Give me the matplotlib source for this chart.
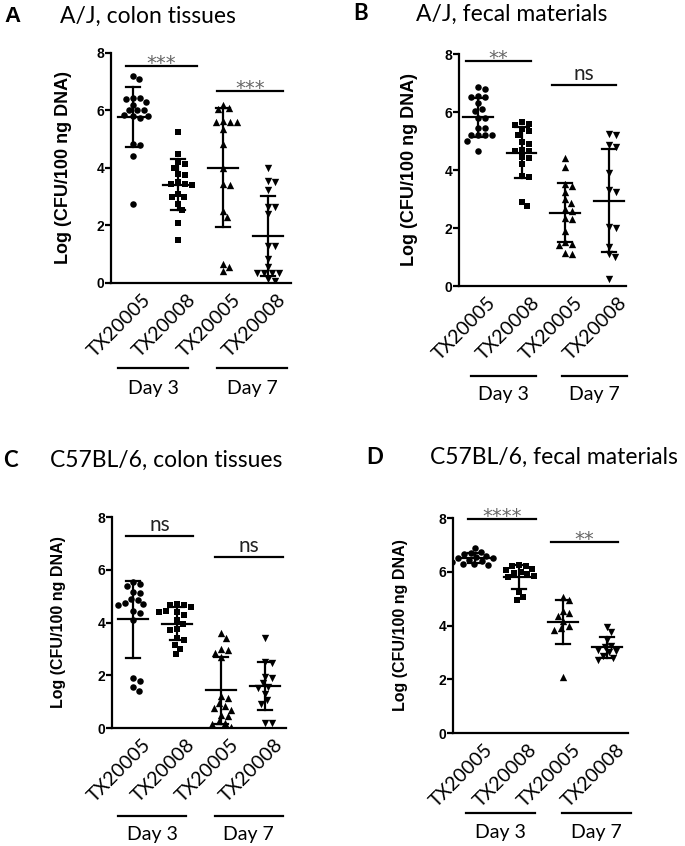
import numpy as np
import matplotlib
matplotlib.use('Agg')
import matplotlib.pyplot as plt
from matplotlib.lines import Line2D
from matplotlib import transforms

W, H, DPI = 685, 846, 100

# ---------------- data ----------------
categories = ['TX20005', 'TX20008', 'TX20005', 'TX20008']
day_labels = ['Day 3', 'Day 7']
yticks = [0, 2, 4, 6, 8]
markers = ['o', 's', '^', 'v']
panel_letters = ['A', 'B', 'C', 'D']
panel_titles = ['A/J, colon tissues', 'A/J, fecal materials',
                'C57BL/6, colon tissues', 'C57BL/6, fecal materials']

a_d3_tx20005 = [7.2, 7.1, 6.45, 6.45, 6.4, 6.3, 6.2, 6.0, 6.0, 6.0, 5.85, 5.8, 5.8, 5.75, 4.85, 4.8, 4.4, 2.75]
a_d3_tx20008 = [5.25, 4.5, 4.2, 4.15, 4.0, 3.8, 3.75, 3.5, 3.45, 3.45, 3.4, 3.1, 3.0, 3.0, 2.75, 2.55, 2.1, 1.5]
a_d7_tx20005 = [6.2, 6.1, 6.05, 5.6, 5.6, 5.65, 5.6, 5.35, 4.85, 4.0, 3.45, 3.4, 2.5, 2.3, 0.65, 0.55, 0.4]
a_d7_tx20008 = [4.0, 3.55, 3.5, 3.25, 2.65, 2.65, 2.4, 1.3, 1.3, 0.85, 0.55, 0.35, 0.35, 0.35, 0.35, 0.15, 0.07]

b_d3_tx20005 = [6.85, 6.8, 6.55, 6.5, 6.5, 6.3, 6.1, 6.05, 5.8, 5.8, 5.45, 5.45, 5.2, 5.2, 5.2, 5.2, 5.0, 4.65]
b_d3_tx20008 = [5.65, 5.6, 5.55, 5.4, 5.35, 5.2, 4.95, 4.9, 4.7, 4.65, 4.65, 4.45, 4.4, 4.2, 3.8, 3.75, 2.9, 2.75]
b_d7_tx20005 = [4.4, 4.1, 3.5, 3.45, 3.25, 3.0, 2.85, 2.65, 2.6, 2.35, 2.3, 1.9, 1.5, 1.45, 1.4, 1.15, 1.1]
b_d7_tx20008 = [5.25, 5.2, 4.85, 4.8, 3.9, 3.3, 3.25, 2.05, 2.0, 1.35, 1.1, 1.0, 0.25]

c_d3_tx20005 = [5.55, 5.45, 5.4, 5.15, 5.1, 4.9, 4.85, 4.75, 4.7, 4.65, 4.45, 4.35, 4.1, 1.9, 1.8, 1.55, 1.4]
c_d3_tx20008 = [4.7, 4.65, 4.65, 4.6, 4.45, 4.4, 4.4, 4.3, 4.1, 3.95, 3.75, 3.7, 3.4, 3.35, 3.15, 3.0, 2.8]
c_d7_tx20005 = [3.6, 3.4, 3.0, 2.95, 2.85, 2.7, 1.2, 1.15, 0.95, 0.85, 0.75, 0.7, 0.5, 0.45, 0.25, 0.2, 0.15, 0.05]
c_d7_tx20008 = [3.4, 2.5, 2.45, 1.95, 1.9, 1.7, 1.55, 1.5, 1.3, 1.05, 0.9, 0.2, 0.2]

d_d3_tx20005 = [6.9, 6.75, 6.7, 6.65, 6.6, 6.55, 6.5, 6.5, 6.45, 6.4, 6.35, 6.3, 6.3, 6.25]
d_d3_tx20008 = [6.25, 6.2, 6.2, 6.1, 6.05, 6.0, 5.95, 5.9, 5.85, 5.8, 5.25, 5.05, 4.95]
d_d7_tx20005 = [5.05, 4.95, 4.55, 4.45, 4.35, 4.15, 4.0, 3.9, 3.85, 2.1]
d_d7_tx20008 = [3.95, 3.75, 3.45, 3.25, 3.2, 3.1, 3.05, 3.0, 2.85, 2.8, 2.7]

sig_labels = [['***', '***'], ['**', 'ns'], ['ns', 'ns'], ['****', '**']]

panel_data = [
    [a_d3_tx20005, a_d3_tx20008, a_d7_tx20005, a_d7_tx20008],
    [b_d3_tx20005, b_d3_tx20008, b_d7_tx20005, b_d7_tx20008],
    [c_d3_tx20005, c_d3_tx20008, c_d7_tx20005, c_d7_tx20008],
    [d_d3_tx20005, d_d3_tx20008, d_d7_tx20005, d_d7_tx20008],
]

# ---------------- layout (pixels) ----------------
layouts = [
    dict(rect=(111, 53, 291, 283), xlim=(0.51, 4.51), ylab_x=72, ylab_fs=13,
         letter=(12, 16), letter_font='Liberation Sans', title=(60, 16),
         sig=[(0.84, 2.42, 7.55), (2.87, 4.33, 6.68)],
         day_y=368, day_text_y=388, days=[(0.67, 2.22), (2.87, 4.42)]),
    dict(rect=(459, 54, 626, 286), xlim=(0.565, 4.39), ylab_x=418, ylab_fs=13,
         letter=(361, 14), letter_font='Lato', title=(416, 14),
         sig=[(0.73, 2.21, 7.76), (2.69, 4.16, 6.93)],
         day_y=376, day_text_y=394, days=[(0.84, 2.33), (2.92, 4.41)]),
    dict(rect=(112, 517, 286, 728), xlim=(0.52, 4.48), ylab_x=66, ylab_fs=11.5,
         letter=(10, 460), letter_font='Lato', title=(50, 460),
         sig=[(0.84, 2.36, 7.28), (2.86, 4.41, 6.49)],
         day_y=816, day_text_y=834, days=[(0.66, 2.2), (2.86, 4.41)]),
    dict(rect=(453, 518, 628, 733), xlim=(0.5, 4.48), ylab_x=408, ylab_fs=11.5,
         letter=(375, 457), letter_font='Lato', title=(430, 457),
         sig=[(0.84, 2.39, 7.95), (2.73, 4.25, 7.1)],
         day_y=813, day_text_y=832, days=[(0.8, 2.36), (2.98, 4.55)]),
]

TITLE_FONT = ['Lato', 'DejaVu Sans']
ARIAL = ['Liberation Sans', 'DejaVu Sans']

fig = plt.figure(figsize=(W / DPI, H / DPI), dpi=DPI)
fig.patch.set_facecolor('white')


def fx(x):
    return x / W


def fy(y):
    return 1 - y / H


def swarm_x(ax, xc, vals, d_px):
    vals = np.asarray(vals, dtype=float)
    pts = ax.transData.transform(np.column_stack([np.full(len(vals), xc), vals]))
    ys = pts[:, 1]
    order = np.argsort(-vals, kind='stable')
    placed = []
    offs = np.zeros(len(vals))
    for i in order:
        y = ys[i]
        near = [(xo, yo) for xo, yo in placed if abs(yo - y) < d_px]
        cands = [0.0]
        for xo, yo in near:
            dx = np.sqrt(d_px ** 2 - (yo - y) ** 2)
            cands += [xo + dx, xo - dx]
        cands.sort(key=lambda c: (abs(c), -c))
        for c in cands:
            if all((c - xo) ** 2 + (y - yo) ** 2 >= d_px ** 2 - 1e-6 for xo, yo in near):
                offs[i] = c
                break
        placed.append((offs[i], y))
    x0 = pts[0, 0] if len(pts) else 0
    xs = ax.transData.inverted().transform(np.column_stack([x0 + offs, ys]))[:, 0]
    return xs


msizes = {'o': 22, 's': 24, '^': 28, 'v': 28}
positions = [1, 2, 3, 4]

for p in range(4):
    L = layouts[p]
    l, t, r, b = L['rect']
    ax = fig.add_axes([fx(l), fy(b), (r - l) / W, (b - t) / H])
    ax.set_xlim(*L['xlim'])
    ax.set_ylim(0, 8)
    for s in ['top', 'right']:
        ax.spines[s].set_visible(False)
    for s in ['left', 'bottom']:
        ax.spines[s].set_linewidth(1.6)
    ax.set_yticks(yticks)
    ax.set_yticklabels([str(v) for v in yticks], fontfamily=ARIAL,
                       fontweight='bold', fontsize=10)
    ax.tick_params(axis='y', length=4, width=1.6, pad=1)
    ax.tick_params(axis='x', length=0, pad=0)
    ax.set_xticks(positions)
    ax.set_xticklabels(categories, rotation=45, ha='right', va='center',
                       rotation_mode='anchor', fontfamily=TITLE_FONT, fontsize=14)
    off = transforms.ScaledTranslation(15 / DPI, -14 / DPI, fig.dpi_scale_trans)
    for lab in ax.get_xticklabels():
        lab.set_transform(lab.get_transform() + off)

    ax.set_ylabel('Log (CFU/100 ng DNA)', fontfamily=ARIAL, fontweight='bold',
                  fontsize=L['ylab_fs'])
    ax.yaxis.set_label_coords((L['ylab_x'] - l) / (r - l), 0.5)

    # points, mean and SD
    for gi, vals in enumerate(panel_data[p]):
        xc = positions[gi]
        xs = swarm_x(ax, xc, vals, 7.0)
        ax.scatter(xs, vals, marker=markers[gi], s=msizes[markers[gi]],
                   color='black', linewidths=0, zorder=3)
        m = np.mean(vals)
        sd = np.std(vals, ddof=1)
        ax.plot([xc - 0.34, xc + 0.34], [m, m], color='black', lw=1.6, zorder=4)
        ax.plot([xc, xc], [m - sd, m + sd], color='black', lw=1.6, zorder=4)
        for yy in (m - sd, m + sd):
            ax.plot([xc - 0.16, xc + 0.16], [yy, yy], color='black', lw=1.6, zorder=4)

    # significance bars
    for (x0, x1, yb), lab in zip(L['sig'], sig_labels[p]):
        ax.plot([x0, x1], [yb, yb], color='black', lw=1.6, clip_on=False)
        if lab == 'ns':
            ax.annotate(lab, xy=((x0 + x1) / 2, yb), xytext=(0, 5),
                        textcoords='offset pixels', ha='center', va='baseline',
                        fontfamily=TITLE_FONT, fontsize=15, color='#222222',
                        annotation_clip=False)
        else:
            ax.annotate(lab, xy=((x0 + x1) / 2, yb), xytext=(0, -3),
                        textcoords='offset pixels', ha='center', va='baseline',
                        fontfamily=['DejaVu Sans'], fontsize=14, color='#666666',
                        annotation_clip=False)

    # day group lines
    bt = transforms.blended_transform_factory(ax.transData, fig.transFigure)
    for (d0, d1), dl in zip(L['days'], day_labels):
        fig.add_artist(Line2D([d0, d1], [fy(L['day_y'])] * 2, transform=bt,
                              color='black', lw=1.6))
        fig.text((d0 + d1) / 2, fy(L['day_text_y']), dl, transform=bt,
                 ha='center', va='center', fontfamily=TITLE_FONT, fontsize=14)

    # panel letter and title
    fig.text(fx(L['letter'][0]), fy(L['letter'][1]), panel_letters[p],
             ha='center', va='center', fontfamily=[L['letter_font'], 'DejaVu Sans'],
             fontweight='bold', fontsize=16)
    fig.text(fx(L['title'][0]), fy(L['title'][1]), panel_titles[p],
             ha='left', va='center', fontfamily=TITLE_FONT, fontsize=16.5)

fig.savefig('out.png', dpi=DPI, facecolor='white')
